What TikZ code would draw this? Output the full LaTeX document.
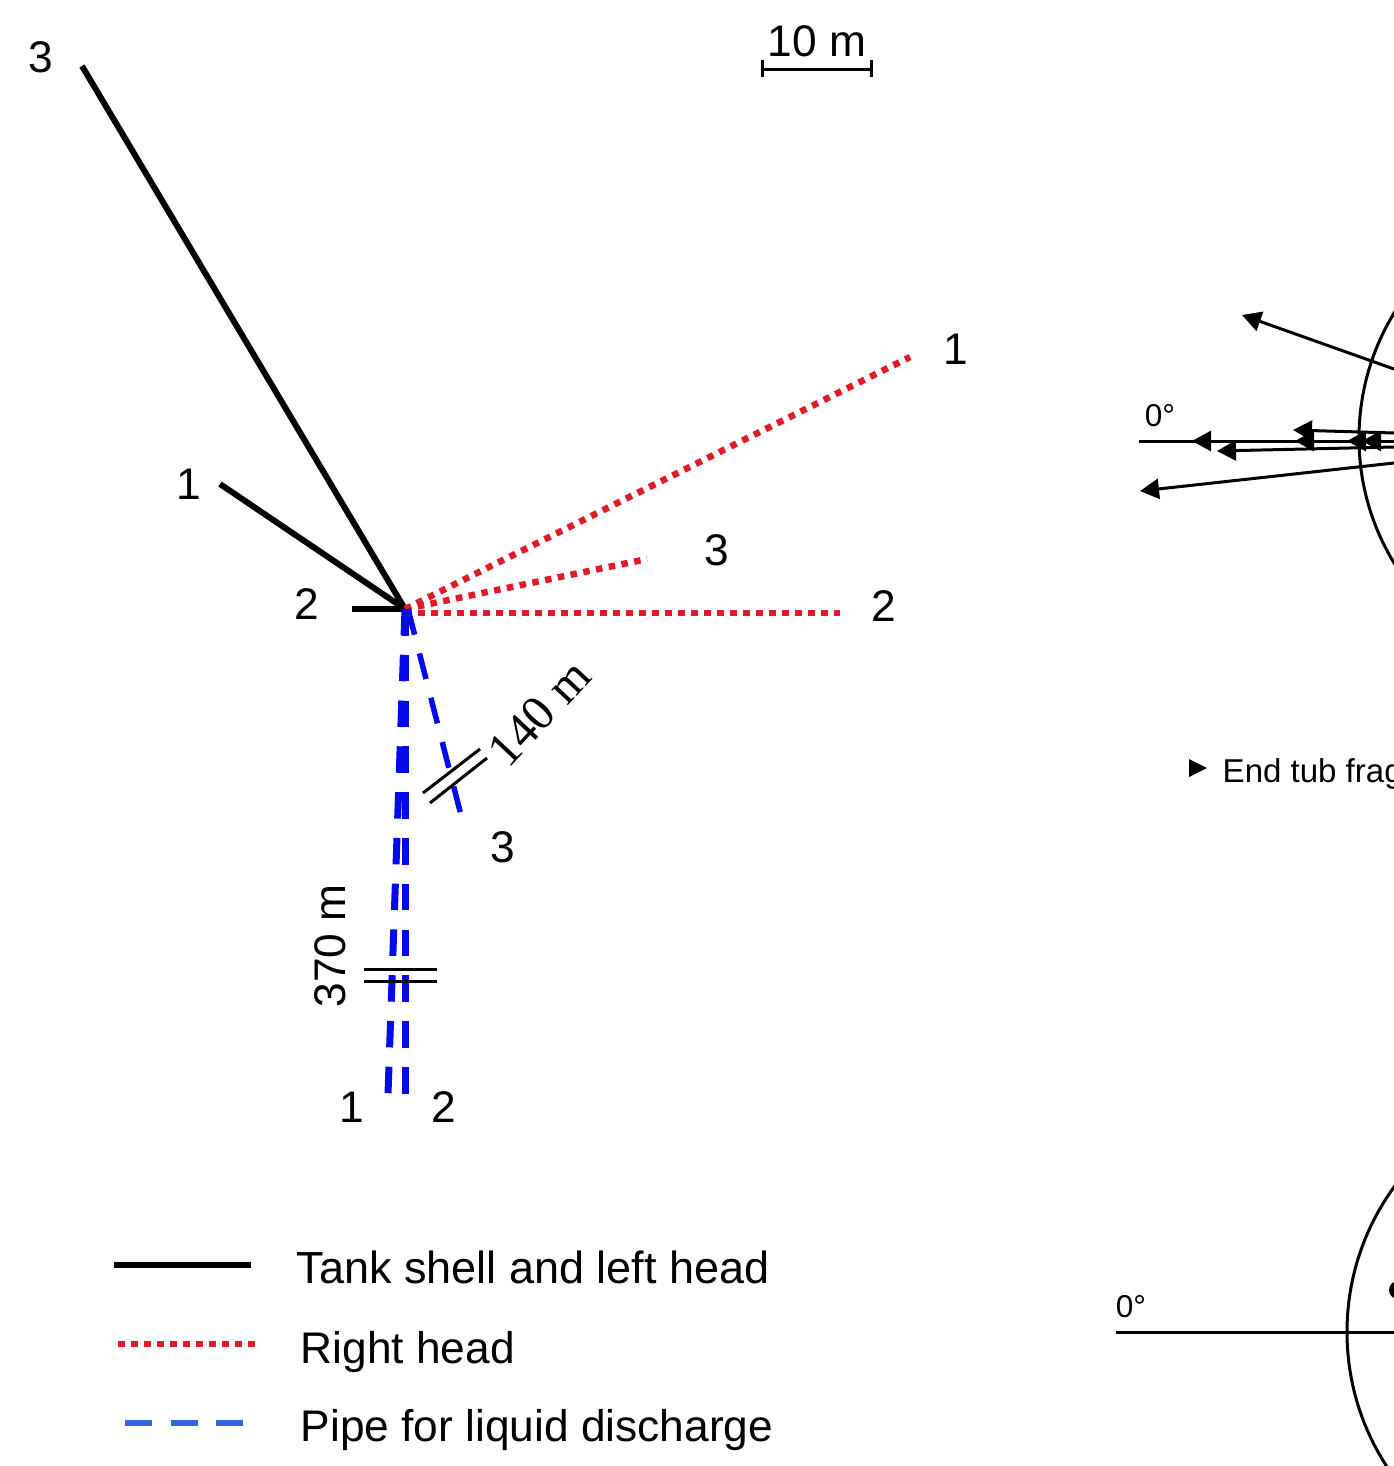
\documentclass[tikz,border=0pt]{standalone}
\usepackage{fontspec}
\setmainfont{Liberation Sans}
\newfontfamily\serifface{Liberation Serif}
\usetikzlibrary{arrows.meta}
\definecolor{shellred}{RGB}{225,25,40}
\definecolor{pipeblue}{RGB}{5,10,235}
\definecolor{keyblue}{RGB}{55,100,230}
\tikzset{
    lab/.style={inner sep=0pt,font=\fontsize{12.6}{15}\selectfont},
    smalllab/.style={inner sep=0pt,font=\fontsize{9}{11}\selectfont},
    shell/.style={line width=0.06cm,black},
    righthead/.style={line width=0.065cm,shellred,dash pattern=on 0.065cm off 0.065cm},
    pipe/.style={line width=0.07cm,pipeblue,dash pattern=on 0.265cm off 0.193cm},
    breakmark/.style={line width=0.03cm},
    ring/.style={line width=0.03cm},
    fragment/.style={line width=0.03cm,-{Triangle[length=0.19cm,width=0.2cm]}}
}
\begin{document}
\begin{tikzpicture}
    \clip (0,0) rectangle (13.94,-14.66);

    % origin of the fans
    \coordinate (hub) at (4.05,-6.09);

    % tank shell and left head
    \node[lab] (s3) at (0.41,-0.57) {3};
    \node[lab] (s1) at (1.89,-4.84) {1};
    \node[lab] (s2) at (3.07,-6.04) {2};
    \coordinate (s3end) at (0.82,-0.66);
    \coordinate (s1end) at (2.20,-4.84);
    \coordinate (s2end) at (3.52,-6.09);
    \draw[shell] (hub) to (s3end);
    \draw[shell] (hub) to (s1end);
    \draw[shell] (hub) to (s2end);

    % right head
    \node[lab] (r1) at (9.56,-3.49) {1};
    \node[lab] (r3) at (7.17,-5.50) {3};
    \node[lab] (r2) at (8.84,-6.06) {2};
    \coordinate (r1end) at (9.10,-3.57);
    \coordinate (r3end) at (6.47,-5.59);
    \coordinate (r2end) at (8.40,-6.13);
    \draw[righthead] (hub) to (r1end);
    \draw[righthead] (hub) to (r3end);
    \draw[righthead] (4.05,-6.13) to (r2end);

    % discharge pipe
    \node[lab] (p1) at (3.52,-11.07) {1};
    \node[lab] (p2) at (4.44,-11.07) {2};
    \node[lab] (p3) at (5.03,-8.47) {3};
    \coordinate (p1end) at (3.88,-10.94);
    \coordinate (p2end) at (4.05,-10.94);
    \coordinate (p3end) at (4.61,-8.15);
    \draw[pipe] (hub) to (p1end);
    \draw[pipe] (hub) to (p2end);
    \draw[pipe,line width=0.055cm] (4.08,-6.09) to (p3end);

    % cut distances
    \draw[breakmark] (3.64,-9.69) to (4.37,-9.69);
    \draw[breakmark] (3.64,-9.81) to (4.37,-9.81);
    \node[lab,rotate=90] (dist370) at (3.30,-9.46) {370 m};
    \draw[breakmark] (4.23,-7.93) to (4.80,-7.49);
    \draw[breakmark] (4.30,-8.03) to (4.87,-7.58);
    \node[lab,rotate=47,font=\serifface\fontsize{14}{15}\selectfont] (dist140) at (5.39,-7.13) {140 m};

    % scale bar
    \node[lab] (scale) at (8.17,-0.41) {10 m};
    \coordinate (scaleL) at (7.62,-0.69);
    \coordinate (scaleR) at (8.71,-0.69);
    \draw[breakmark] (scaleL) to (scaleR);
    \draw[breakmark] (7.62,-0.60) to (7.62,-0.77);
    \draw[breakmark] (8.71,-0.60) to (8.71,-0.77);

    % upper polar plot
    \draw[ring] (15.99,-4.38) circle (2.40);
    \node[smalllab] (deg1) at (11.60,-4.16) {0°};
    \coordinate (axis1L) at (11.39,-4.41);
    \coordinate (axis1R) at (13.94,-4.41);
    \draw[ring] (axis1L) to (axis1R);
    \draw[fragment] (13.94,-3.69) to (12.42,-3.15);
    \draw[fragment] (13.94,-4.63) to (11.40,-4.91);
    \draw[fragment] (13.94,-4.41) to (11.92,-4.41);
    \draw[fragment] (13.94,-4.47) to (12.17,-4.51);
    \draw[fragment] (13.94,-4.33) to (12.93,-4.30);
    \draw[fragment] (13.94,-4.41) to (12.95,-4.41);
    \draw[fragment] (13.94,-4.41) to (13.47,-4.41);
    \draw[fragment] (13.94,-4.41) to (13.62,-4.41);

    % end tub key
    \fill (11.89,-7.59) -- (12.07,-7.68) -- (11.89,-7.77) -- cycle;
    \node[smalllab,anchor=west,font=\fontsize{9.4}{11}\selectfont] (tubkey) at (12.22,-7.74) {End tub frag};

    % lower polar plot
    \draw[ring] (15.94,-13.32) circle (2.47);
    \node[smalllab] (deg2) at (11.31,-13.07) {0°};
    \coordinate (axis2L) at (11.16,-13.32);
    \coordinate (axis2R) at (13.94,-13.32);
    \draw[ring] (axis2L) to (axis2R);
    \fill (13.98,-12.90) circle (0.09);

    % key
    \coordinate (k1L) at (1.14,-12.65);
    \coordinate (k1R) at (2.51,-12.65);
    \coordinate (k2L) at (1.18,-13.44);
    \coordinate (k2R) at (2.55,-13.44);
    \coordinate (k3L) at (1.25,-14.23);
    \coordinate (k3R) at (2.43,-14.23);
    \draw[shell] (k1L) to (k1R);
    \draw[righthead] (k2L) to (k2R);
    \draw[line width=0.06cm,keyblue,dash pattern=on 0.27cm off 0.185cm] (k3L) to (k3R);
    \node[lab,anchor=west,font=\fontsize{12.8}{15}\selectfont] (t1) at (2.96,-12.67) {Tank shell and left head};
    \node[lab,anchor=west] (t2) at (3.00,-13.52) {Right head};
    \node[lab,anchor=west] (t3) at (3.00,-14.30) {Pipe for liquid discharge};
\end{tikzpicture}
\end{document}
